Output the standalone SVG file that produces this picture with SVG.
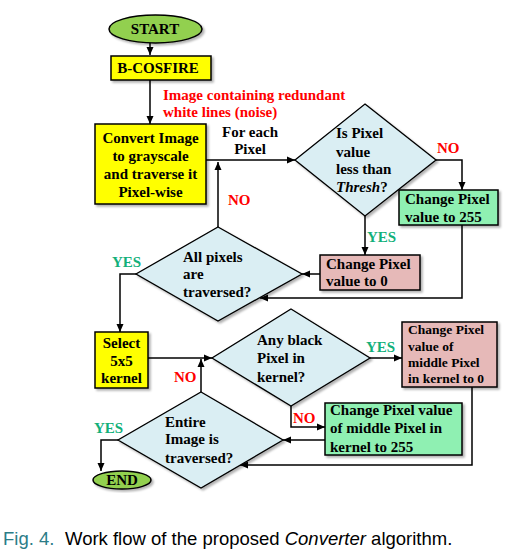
<svg xmlns="http://www.w3.org/2000/svg" width="518" height="555" viewBox="0 0 518 555">
<style>
.t{font-family:"Liberation Serif","Times New Roman",serif;font-weight:bold;font-size:15px;fill:#000}
.s{font-size:13.5px}
.red{fill:#FF0000}
.yes{fill:#12B07A}
.box{stroke:#000;stroke-width:1.5}
.y{fill:#FFFF00}
.g{fill:#8FF0B2}
.p{fill:#E6B9B8}
.d{fill:#DAEEF3;stroke:#000;stroke-width:1.3}
.e{fill:#92D050;stroke:#000;stroke-width:1.5}
.c path{fill:none;stroke:#000;stroke-width:1.5}
.cap{font-family:"Liberation Sans",Arial,sans-serif;font-size:18.5px;fill:#000}
</style>
<defs>
<marker id="a" markerUnits="userSpaceOnUse" markerWidth="9" markerHeight="8" refX="8" refY="4" orient="auto">
<path d="M0,0.5 L8,4 L0,7.5 z" fill="#000"/>
</marker>
<filter id="sh" x="-10%" y="-10%" width="130%" height="130%">
<feDropShadow dx="2" dy="2" stdDeviation="0.8" flood-color="#000" flood-opacity="0.3"/>
</filter>
</defs>
<rect width="518" height="555" fill="#fff"/>

<g class="c" id="connectors">
<path d="M150,43 V55" marker-end="url(#a)"/>
<path d="M150,80 V124" marker-end="url(#a)"/>
<path d="M206,160 H295" marker-end="url(#a)"/>
<path d="M436,160 H462 V190" marker-end="url(#a)"/>
<path d="M365,216 V255" marker-end="url(#a)"/>
<path d="M320,274 H302" marker-end="url(#a)"/>
<path d="M462,225 V298 H260" marker-end="url(#a)"/>
<path d="M218,227 V162" marker-end="url(#a)"/>
<path d="M136,274 H120 V332" marker-end="url(#a)"/>
<path d="M148,358 H212" marker-end="url(#a)"/>
<path d="M370,358 H402" marker-end="url(#a)"/>
<path d="M291,406 V427 H325" marker-end="url(#a)"/>
<path d="M325,440 H283" marker-end="url(#a)"/>
<path d="M472,387 V465 H240" marker-end="url(#a)"/>
<path d="M201,392 V359" marker-end="url(#a)"/>
<path d="M118,440 H101 V471" marker-end="url(#a)"/>
</g>

<g id="start">
<ellipse class="e" cx="155.5" cy="29" rx="46.5" ry="14" filter="url(#sh)"/>
<text class="t" x="155" y="34" text-anchor="middle">START</text>
</g>

<g id="bcosfire">
<rect class="box y" x="111" y="56" width="100" height="24" filter="url(#sh)"/>
<text class="t" x="158" y="73" text-anchor="middle">B-COSFIRE</text>
</g>

<g id="noise-label">
<text class="t red" x="163" y="100">Image containing redundant</text>
<text class="t red" x="163" y="117">white lines (noise)</text>
</g>

<g id="convert">
<rect class="box y" x="95" y="124" width="111" height="80" filter="url(#sh)"/>
<text class="t" x="150.5" y="143" text-anchor="middle">Convert Image</text>
<text class="t" x="150.5" y="161" text-anchor="middle">to grayscale</text>
<text class="t" x="150.5" y="179" text-anchor="middle">and traverse it</text>
<text class="t" x="150.5" y="197" text-anchor="middle">Pixel-wise</text>
</g>

<g id="for-each-label">
<text class="t" x="250" y="137" text-anchor="middle">For each</text>
<text class="t" x="250" y="154" text-anchor="middle">Pixel</text>
</g>

<g id="thresh">
<polygon class="d" points="365,104 436,160 365,216 295,160" filter="url(#sh)"/>
<text class="t" x="336" y="138">Is Pixel</text>
<text class="t" x="336" y="157">value</text>
<text class="t" x="336" y="174">less than</text>
<text class="t" x="336" y="192"><tspan font-style="italic">Thresh</tspan>?</text>
</g>

<g id="labels1">
<text class="t red" x="437" y="153">NO</text>
<text class="t yes" x="367" y="242">YES</text>
<text class="t red" x="228" y="205">NO</text>
<text class="t yes" x="112" y="267">YES</text>
</g>

<g id="to255">
<rect class="box g" x="399" y="190" width="99" height="35" filter="url(#sh)"/>
<text class="t" x="405" y="204">Change Pixel</text>
<text class="t" x="405" y="222">value to 255</text>
</g>

<g id="to0">
<rect class="box p" x="320" y="255" width="100" height="35" filter="url(#sh)"/>
<text class="t" x="326" y="269">Change Pixel</text>
<text class="t" x="326" y="286">value to 0</text>
</g>

<g id="all-traversed">
<polygon class="d" points="218,227 302,274 218,321 136,274" filter="url(#sh)"/>
<text class="t" x="183" y="262">All pixels</text>
<text class="t" x="183" y="279">are</text>
<text class="t" x="183" y="297">traversed?</text>
</g>

<g id="select">
<rect class="box y" x="95" y="332" width="53" height="56" filter="url(#sh)"/>
<text class="t" x="121.5" y="348" text-anchor="middle">Select</text>
<text class="t" x="121.5" y="366" text-anchor="middle">5x5</text>
<text class="t" x="121.5" y="383" text-anchor="middle">kernel</text>
</g>

<g id="any-black">
<polygon class="d" points="291,309 370,358 291,406 212,358" filter="url(#sh)"/>
<text class="t" x="257" y="345">Any black</text>
<text class="t" x="257" y="363">Pixel in</text>
<text class="t" x="257" y="382">kernel?</text>
</g>

<g id="labels2">
<text class="t yes" x="366" y="352" font-weight="normal" font-size="13.5">YES</text>
<text class="t red" x="293" y="423">NO</text>
<text class="t red" x="174" y="382">NO</text>
<text class="t yes" x="94" y="433">YES</text>
</g>

<g id="mid0">
<rect class="box p" x="402" y="322" width="95" height="65" filter="url(#sh)"/>
<text class="t s" x="408" y="334">Change Pixel</text>
<text class="t s" x="408" y="351">value of</text>
<text class="t s" x="408" y="367">middle Pixel</text>
<text class="t s" x="408" y="383">in kernel to 0</text>
</g>

<g id="mid255">
<rect class="box g" x="325" y="403" width="137" height="52" filter="url(#sh)"/>
<text class="t" x="330" y="415">Change Pixel value</text>
<text class="t" x="330" y="433">of middle Pixel in</text>
<text class="t" x="330" y="452">kernel to 255</text>
</g>

<g id="entire">
<polygon class="d" points="201,392 283,440 201,488 118,440" filter="url(#sh)"/>
<text class="t" x="165" y="427">Entire</text>
<text class="t" x="165" y="444">Image is</text>
<text class="t" x="165" y="463">traversed?</text>
</g>

<g id="end">
<ellipse class="e" cx="122" cy="480" rx="29" ry="9" filter="url(#sh)"/>
<text class="t" x="122" y="485" text-anchor="middle" font-size="13">END</text>
</g>

<g id="caption">
<text class="cap" x="3" y="545"><tspan fill="#2B7C87">Fig. 4.</tspan><tspan x="65">Work flow of the proposed </tspan><tspan font-style="italic">Converter</tspan> algorithm.</text>
</g>
</svg>
